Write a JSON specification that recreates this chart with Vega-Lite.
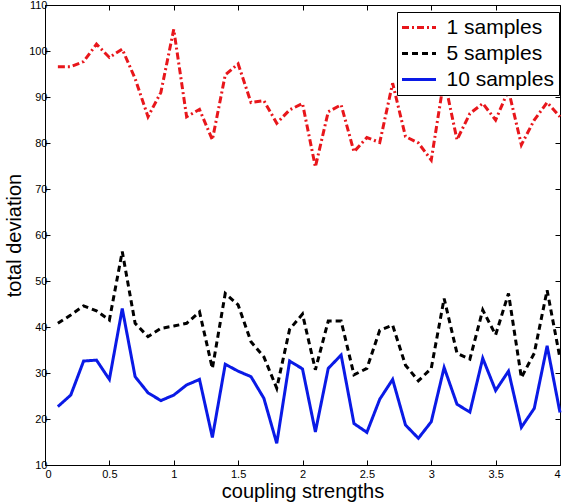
{
  "$schema": "https://vega.github.io/schema/vega-lite/v6.json",
  "width": 515,
  "height": 460,
  "autosize": {"type": "none"},
  "padding": {"left": 45, "top": 5, "right": 5, "bottom": 38},
  "config": {
    "font": "Liberation Sans",
    "view": {"stroke": "black", "strokeWidth": 1},
    "axis": {
      "grid": false,
      "domain": false,
      "tickColor": "black",
      "tickSize": -5,
      "labelColor": "black",
      "labelFontSize": 11,
      "labelFont": "Liberation Sans",
      "titleFont": "Liberation Sans",
      "titleFontWeight": "normal",
      "titleFontSize": 20,
      "titleColor": "black"
    },
    "legend": {
      "symbolType": "M-2,0H2",
      "symbolSize": 289,
      "symbolStrokeWidth": 3,
      "symbolOffset": 6.5,
      "labelOffset": 17,
      "labelFontSize": 21,
      "labelColor": "black",
      "labelFont": "Liberation Sans",
      "rowPadding": 4,
      "padding": 5,
      "strokeColor": "black",
      "fillColor": "white"
    }
  },
  "data": {
    "values": [
      {"c": 0.1, "1 samples": 96.6, "5 samples": 40.8, "10 samples": 22.7},
      {"c": 0.2, "1 samples": 96.6, "5 samples": 42.6, "10 samples": 25.2},
      {"c": 0.3, "1 samples": 97.7, "5 samples": 44.6, "10 samples": 32.6},
      {"c": 0.4, "1 samples": 101.5, "5 samples": 43.5, "10 samples": 32.8},
      {"c": 0.5, "1 samples": 98.6, "5 samples": 41.5, "10 samples": 28.6},
      {"c": 0.6, "1 samples": 100.4, "5 samples": 56.4, "10 samples": 44.0},
      {"c": 0.7, "1 samples": 94.0, "5 samples": 40.8, "10 samples": 29.2},
      {"c": 0.8, "1 samples": 85.7, "5 samples": 37.9, "10 samples": 25.7},
      {"c": 0.9, "1 samples": 91.0, "5 samples": 39.7, "10 samples": 24.0},
      {"c": 1.0, "1 samples": 104.7, "5 samples": 40.2, "10 samples": 25.2},
      {"c": 1.1, "1 samples": 85.7, "5 samples": 40.8, "10 samples": 27.4},
      {"c": 1.2, "1 samples": 87.3, "5 samples": 43.3, "10 samples": 28.6},
      {"c": 1.3, "1 samples": 80.7, "5 samples": 31.0, "10 samples": 16.0},
      {"c": 1.4, "1 samples": 94.8, "5 samples": 47.3, "10 samples": 31.9},
      {"c": 1.5, "1 samples": 97.2, "5 samples": 44.8, "10 samples": 30.4},
      {"c": 1.6, "1 samples": 88.8, "5 samples": 36.8, "10 samples": 29.2},
      {"c": 1.7, "1 samples": 89.2, "5 samples": 33.5, "10 samples": 24.5},
      {"c": 1.8, "1 samples": 84.3, "5 samples": 26.7, "10 samples": 14.7},
      {"c": 1.9, "1 samples": 87.2, "5 samples": 39.5, "10 samples": 32.6},
      {"c": 2.0, "1 samples": 88.6, "5 samples": 42.8, "10 samples": 30.9},
      {"c": 2.1, "1 samples": 74.8, "5 samples": 30.7, "10 samples": 17.2},
      {"c": 2.2, "1 samples": 86.8, "5 samples": 41.3, "10 samples": 31.0},
      {"c": 2.3, "1 samples": 88.3, "5 samples": 41.3, "10 samples": 33.9},
      {"c": 2.4, "1 samples": 78.1, "5 samples": 29.6, "10 samples": 19.0},
      {"c": 2.5, "1 samples": 81.2, "5 samples": 31.0, "10 samples": 17.1},
      {"c": 2.6, "1 samples": 80.1, "5 samples": 39.3, "10 samples": 24.3},
      {"c": 2.7, "1 samples": 93.0, "5 samples": 40.4, "10 samples": 28.6},
      {"c": 2.8, "1 samples": 81.4, "5 samples": 31.7, "10 samples": 18.7},
      {"c": 2.9, "1 samples": 80.0, "5 samples": 28.3, "10 samples": 15.8},
      {"c": 3.0, "1 samples": 76.3, "5 samples": 31.0, "10 samples": 19.4},
      {"c": 3.1, "1 samples": 94.0, "5 samples": 46.2, "10 samples": 31.2},
      {"c": 3.2, "1 samples": 80.7, "5 samples": 34.3, "10 samples": 23.2},
      {"c": 3.3, "1 samples": 86.4, "5 samples": 33.0, "10 samples": 21.5},
      {"c": 3.4, "1 samples": 88.6, "5 samples": 43.7, "10 samples": 33.2},
      {"c": 3.5, "1 samples": 85.0, "5 samples": 38.3, "10 samples": 26.2},
      {"c": 3.6, "1 samples": 91.5, "5 samples": 47.3, "10 samples": 30.4},
      {"c": 3.7, "1 samples": 79.6, "5 samples": 29.0, "10 samples": 18.2},
      {"c": 3.8, "1 samples": 85.0, "5 samples": 34.3, "10 samples": 22.3},
      {"c": 3.9, "1 samples": 88.8, "5 samples": 48.0, "10 samples": 35.9},
      {"c": 4.0, "1 samples": 85.7, "5 samples": 33.2, "10 samples": 21.4}
    ]
  },
  "transform": [
    {"fold": ["1 samples", "5 samples", "10 samples"], "as": ["series", "value"]}
  ],
  "layer": [
    {
      "mark": {"type": "line", "strokeWidth": 3},
      "encoding": {
        "x": {
          "field": "c",
          "type": "quantitative",
          "scale": {"domain": [0, 4], "nice": false},
          "axis": {"values": [0, 0.5, 1, 1.5, 2, 2.5, 3, 3.5, 4], "format": "~g", "title": "coupling strengths", "titlePadding": 2, "labelPadding": 8}
        },
        "y": {
          "field": "value",
          "type": "quantitative",
          "scale": {"domain": [10, 110], "nice": false},
          "axis": {"values": [10, 20, 30, 40, 50, 60, 70, 80, 90, 100, 110], "title": "total deviation", "titlePadding": 4, "labelPadding": 3}
        },
        "color": {
          "field": "series",
          "type": "nominal",
          "scale": {"domain": ["1 samples", "5 samples", "10 samples"], "range": ["#e8161b", "black", "#0a1ae6"]},
          "legend": {"title": null, "orient": "none", "legendX": 352, "legendY": 7}
        },
        "strokeDash": {
          "field": "series",
          "type": "nominal",
          "scale": {"domain": ["1 samples", "5 samples", "10 samples"], "range": [[7, 3, 2, 3], [6, 4], [1, 0]]},
          "legend": {"title": null, "orient": "none", "legendX": 352, "legendY": 7}
        }
      }
    },
    {
      "mark": {"type": "point", "opacity": 0},
      "encoding": {
        "x": {
          "field": "c",
          "type": "quantitative",
          "axis": {"orient": "top", "values": [0, 0.5, 1, 1.5, 2, 2.5, 3, 3.5, 4], "labels": false, "title": null}
        },
        "y": {
          "field": "value",
          "type": "quantitative",
          "axis": {"orient": "right", "values": [10, 20, 30, 40, 50, 60, 70, 80, 90, 100, 110], "labels": false, "title": null}
        }
      }
    }
  ],
  "resolve": {"axis": {"x": "independent", "y": "independent"}}
}
